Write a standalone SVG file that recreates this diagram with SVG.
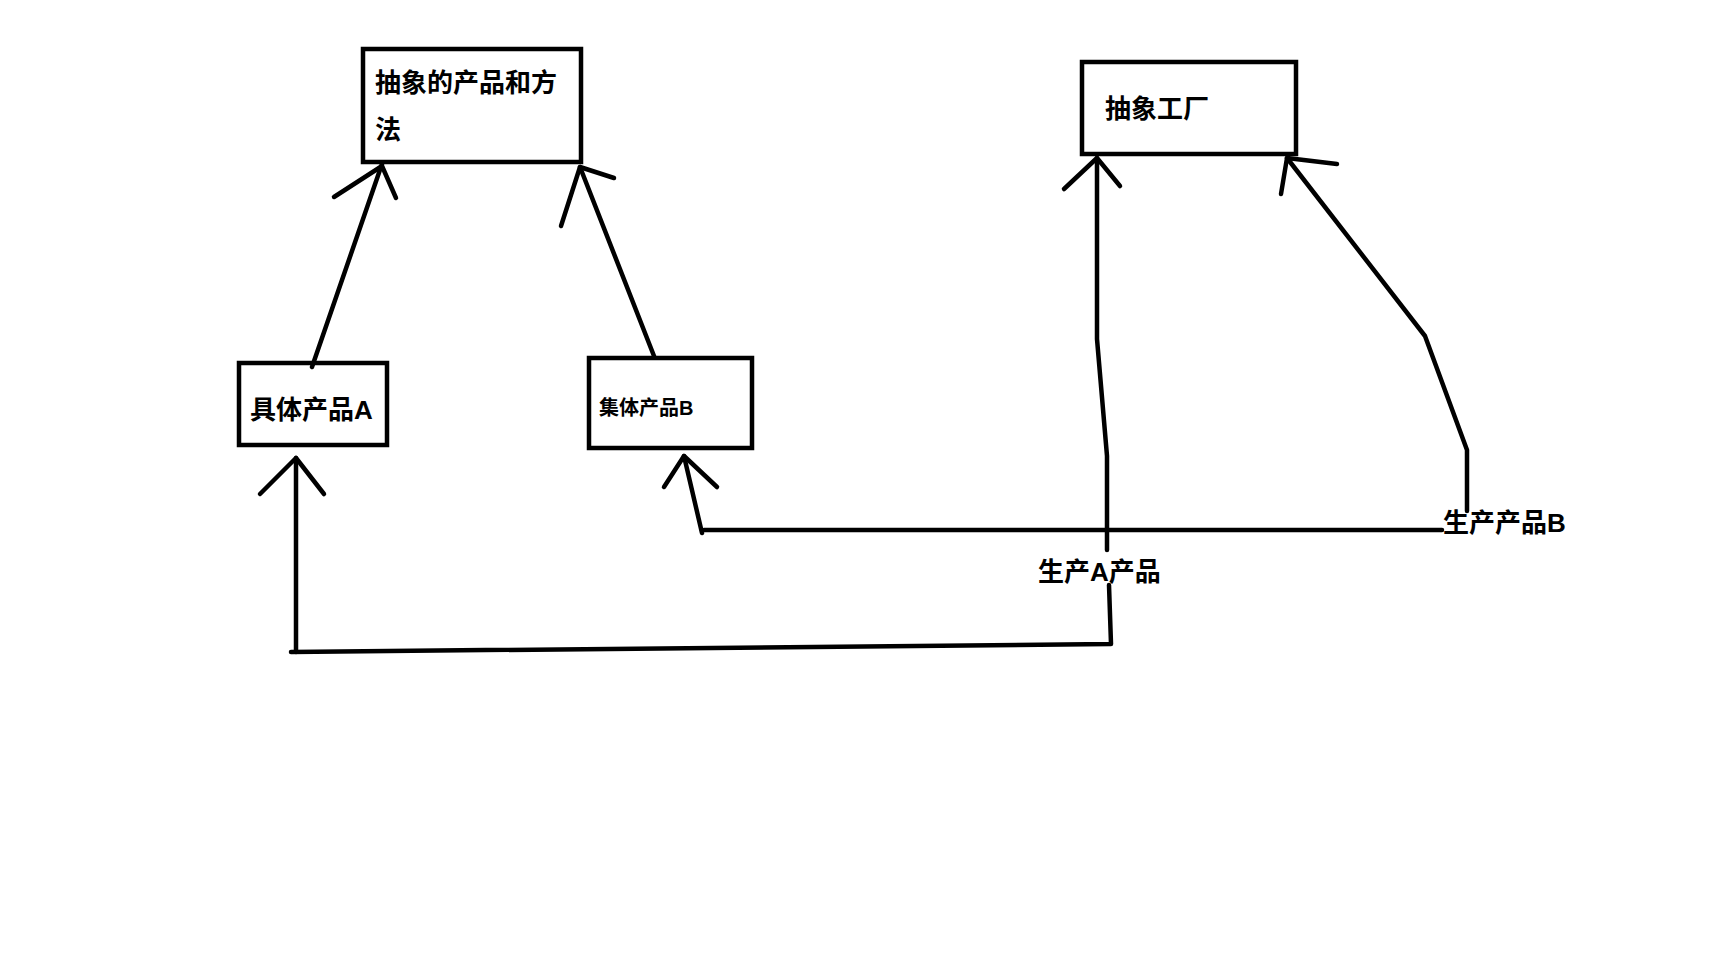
<svg xmlns="http://www.w3.org/2000/svg" width="1728" height="972" viewBox="0 0 1728 972">
<style>
.n{fill:#fff;stroke:#000;stroke-width:4.5}
.c polyline{fill:none;stroke:#000;stroke-width:4.5;stroke-linecap:round;stroke-linejoin:round}
text{font-family:"Liberation Sans","Noto Sans CJK SC",sans-serif;font-weight:bold;font-size:26px;fill:#000}
</style>
<rect x="0" y="0" width="1728" height="972" fill="#fff"/>
<g id="abstract-product"><rect class="n" x="363" y="49" width="218" height="113"/><text x="375" y="92">抽象的产品和方</text><text x="375" y="139">法</text></g>
<g id="abstract-factory"><rect class="n" x="1082" y="62" width="214" height="92"/><text x="1105" y="118">抽象工厂</text></g>
<g id="product-a"><rect class="n" x="239" y="363" width="148" height="82"/><text x="250" y="419">具体产品A</text></g>
<g id="product-b"><rect class="n" x="589" y="358" width="163" height="90"/><text x="599" y="415" style="font-size:20px">集体产品B</text></g>
<g id="connectors" class="c">
<polyline points="312,367 382,164"/><polyline points="334,197 382,166 396,198"/>
<polyline points="654,356 580,167"/><polyline points="561,226 580,167 614,178"/>
<polyline points="1107,550 1107,456 1097,339 1097,158"/><polyline points="1064,189 1097,158 1120,186"/>
<polyline points="1467,511 1467,450 1425,336 1287,158"/><polyline points="1281,194 1287,158 1337,164"/>
<polyline points="704,530 1442,530"/>
<polyline points="702,533 684,456"/><polyline points="664,487 684,456 717,487"/>
<polyline points="296,652 296,458"/><polyline points="260,494 296,458 324,494"/>
<polyline points="291,652 1111,644 1109,585"/>
</g>
<text x="1038" y="581">生产A产品</text>
<text x="1443" y="532">生产产品B</text>
</svg>
